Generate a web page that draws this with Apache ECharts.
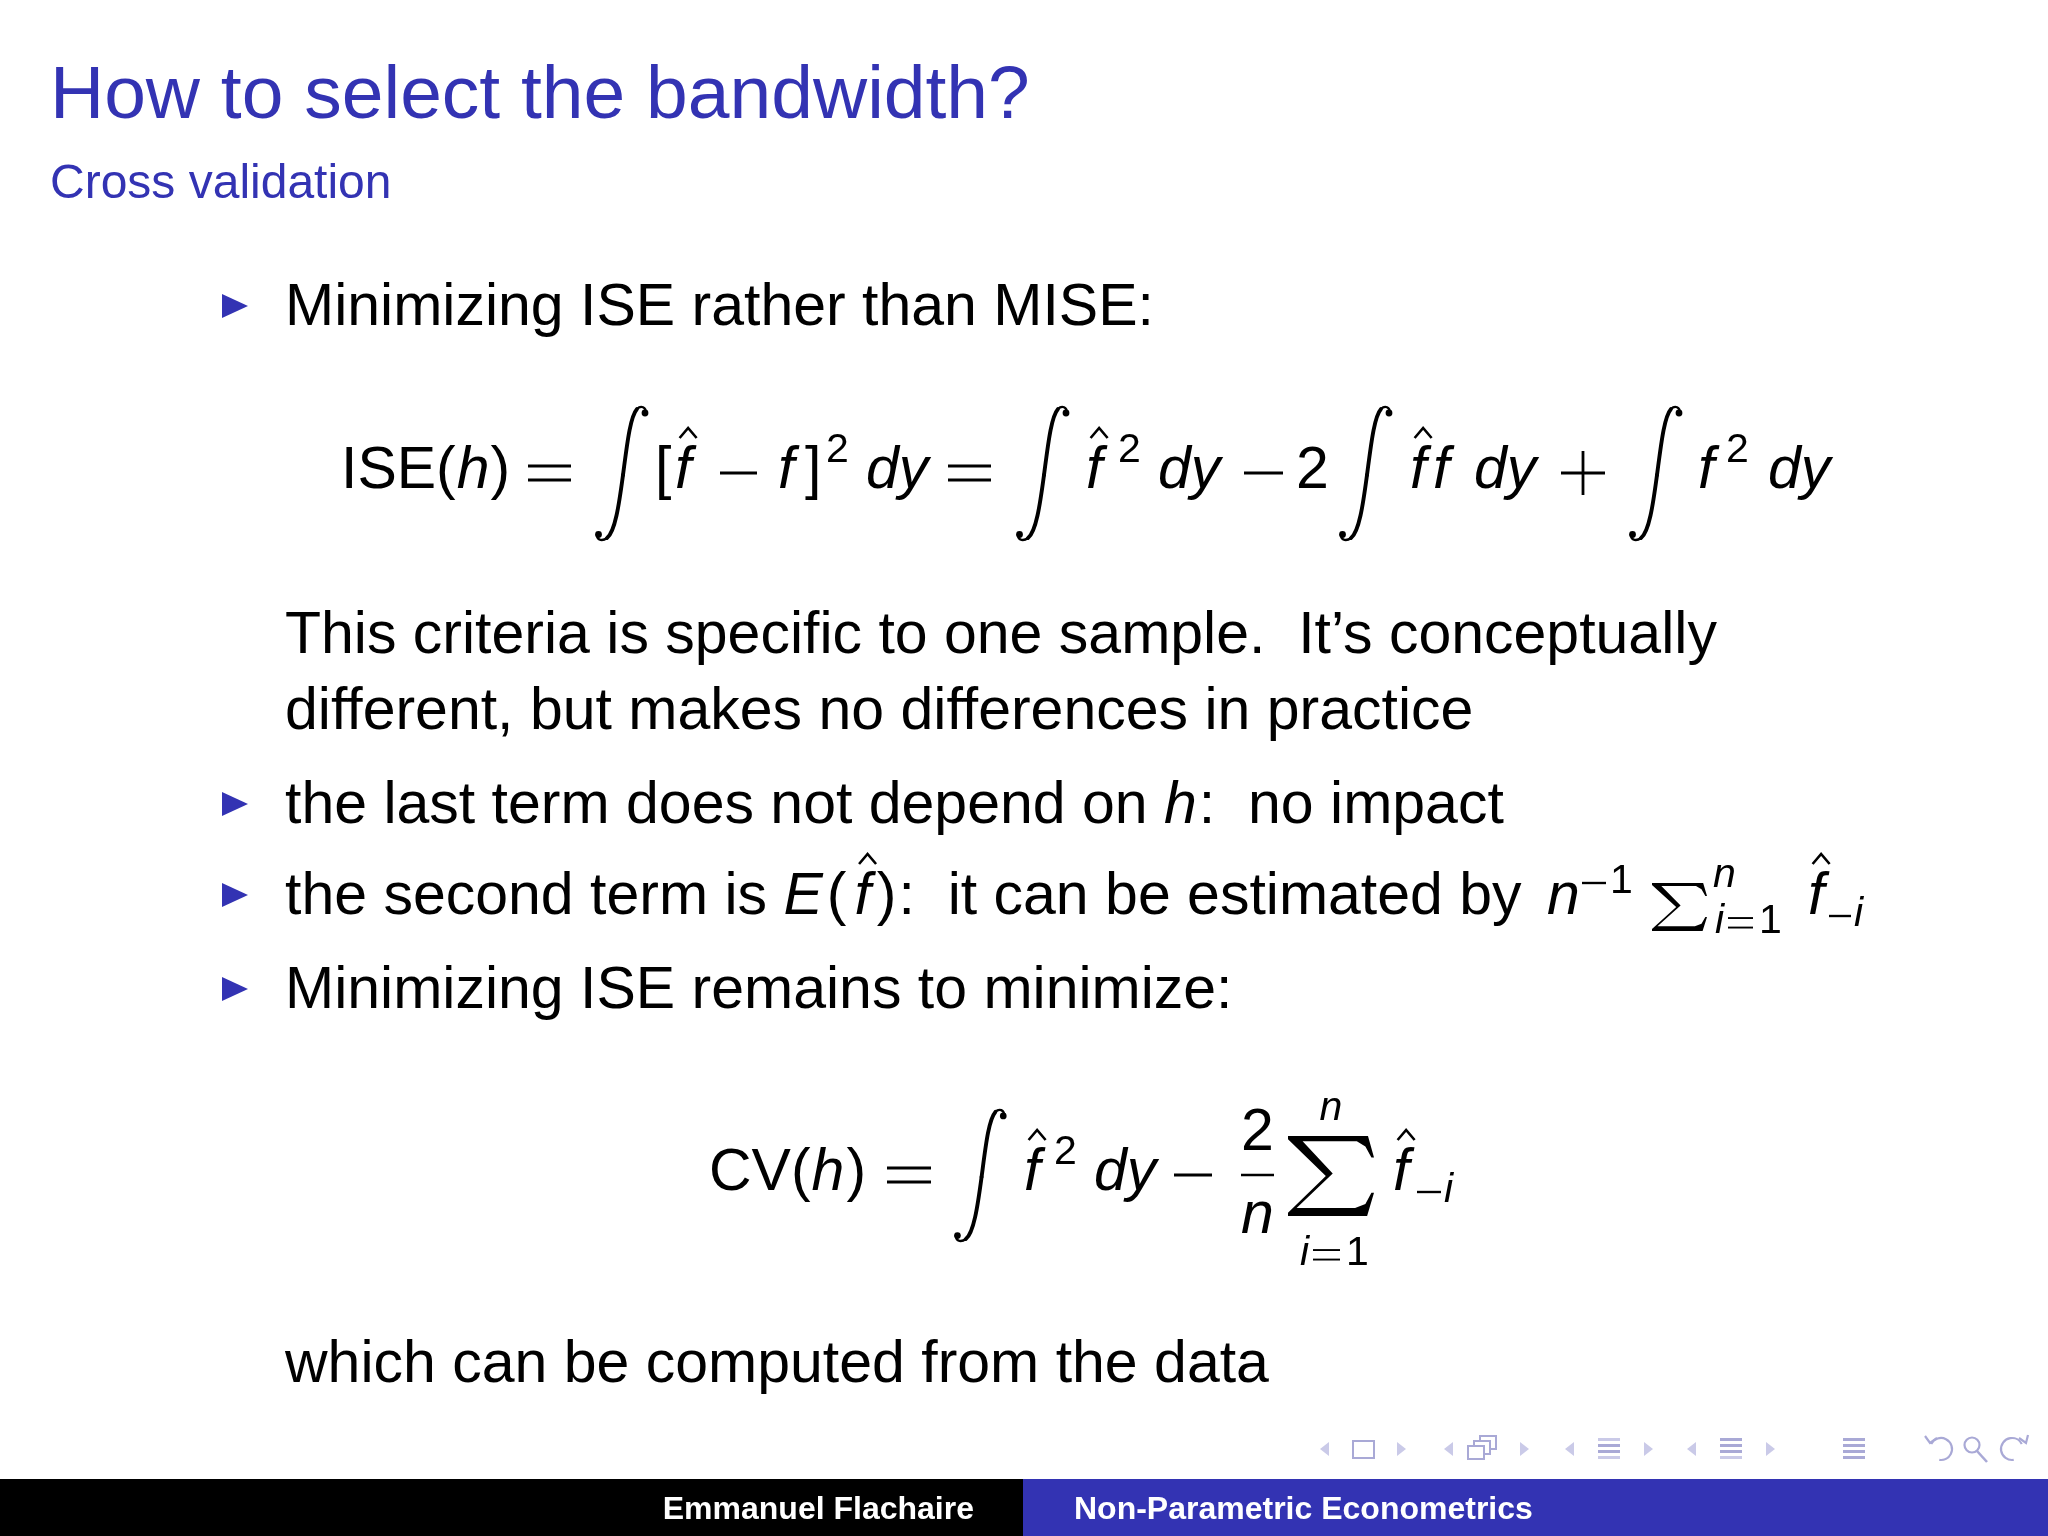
<!DOCTYPE html>
<html><head><meta charset="utf-8">
<script src="https://cdn.jsdelivr.net/npm/echarts@6/dist/echarts.min.js"></script>
<style>html,body{margin:0;padding:0;background:#fff}#c{width:2048px;height:1536px}</style>
</head><body><div id="c"></div>
<script>
// ---------- text content ----------
const titleText = 'How to select the bandwidth?';
const subtitleText = 'Cross validation';
const bullet1Text = 'Minimizing ISE rather than MISE:';
const noteLines = ['This criteria is specific to one sample.  It\u2019s conceptually',
                   'different, but makes no differences in practice'];
const bullet2Parts = ['the last term does not depend on ', 'h', ':  no impact'];
const bullet3Parts = ['the second term is ', 'E', '(', 'f', ')', ':  it can be estimated by '];
const bullet4Text = 'Minimizing ISE remains to minimize:';
const closingText = 'which can be computed from the data';
const footerAuthor = 'Emmanuel Flachaire';
const footerTitle = 'Non-Parametric Econometrics';

// ---------- styles ----------
const FONT = '"Liberation Sans", Arial, Helvetica, sans-serif';
const BLUE = '#3333B3';
const INK = '#000000';
const BODY = 59, SUP = 41, TITLE = 75, SUBT = 48, FOOT = 32;
const NAV_LIGHT = '#CACAE8', NAV_DARK = '#A9A9D6';

const els = [];
let zc = 1;
const cv = document.createElement('canvas').getContext('2d');
function fnt(size, italic, bold) {
  return (italic ? 'italic ' : 'normal ') + (bold ? 'bold ' : 'normal ') + size + 'px ' + FONT;
}
function wid(t, size, italic, bold) { cv.font = fnt(size, italic, bold); return cv.measureText(t).width; }
function baseOff(size, italic, bold) {
  cv.font = fnt(size, italic, bold);
  cv.textBaseline = 'alphabetic';
  const a = cv.measureText('H').actualBoundingBoxAscent;
  cv.textBaseline = 'middle';
  const m = cv.measureText('H').actualBoundingBoxAscent;
  cv.textBaseline = 'alphabetic';
  return a - m;
}
function T(t, x, base, size, o) {
  o = o || {};
  const off = baseOff(size, o.italic, o.bold);
  els.push({type: 'text', x: x, y: base - off, z: zc++, silent: true,
    style: {text: t, font: fnt(size, o.italic, o.bold), fill: o.color || INK,
            align: o.align || 'left', verticalAlign: 'middle'}});
  return x + wid(t, size, o.italic, o.bold);
}
function line(x1, y1, x2, y2, lw, color) {
  els.push({type: 'line', z: zc++, silent: true, shape: {x1, y1, x2, y2},
    style: {stroke: color || INK, lineWidth: lw || 2.8, lineCap: 'butt'}});
}
function hat(cx, top, w) {
  w = w || 9;
  els.push({type: 'polyline', z: zc++, silent: true,
    shape: {points: [[cx - w, top + 10], [cx, top], [cx + w, top + 10]]},
    style: {stroke: INK, lineWidth: 2.6, fill: null, lineJoin: 'miter'}});
}
function opEq(x0, x1, base, k) { k = k || 1; line(x0, base - 8 * k, x1, base - 8 * k, 2.8 * k); line(x0, base - 22 * k, x1, base - 22 * k, 2.8 * k); }
function opMinus(x0, x1, y, k) { line(x0, y, x1, y, 2.8 * (k || 1)); }
function opPlus(x0, x1, base) { const ax = base - 15, h = (x1 - x0) / 2; line(x0, ax, x1, ax, 2.8); line((x0 + x1) / 2, ax - h, (x0 + x1) / 2, ax + h, 2.8); }
function bez(p0, c1, c2, p1, lw) {
  els.push({type: 'bezierCurve', z: zc++, silent: true,
    shape: {x1: p0[0], y1: p0[1], cpx1: c1[0], cpy1: c1[1], cpx2: c2[0], cpy2: c2[1], x2: p1[0], y2: p1[1]},
    style: {stroke: INK, lineWidth: lw, fill: null, lineCap: 'round'}});
}
function integral(x, top, H) {
  const s = H / 137;
  const P = (a, b) => [x + a * s, top + b * s];
  bez(P(52, 8), P(52, 2), P(47, 0), P(43, 4), 2.4);
  bez(P(43, 4), P(36, 12), P(33, 40), P(29, 70), 3.9);
  bez(P(29, 70), P(25, 100), P(21, 127), P(13, 133), 3.9);
  bez(P(13, 133), P(9, 136), P(3, 136), P(3, 130), 2.4);
  const c1 = P(51, 8), c2 = P(4.5, 129.5);
  els.push({type: 'circle', z: zc++, silent: true, shape: {cx: c1[0], cy: c1[1], r: 3.4 * s}, style: {fill: INK}});
  els.push({type: 'circle', z: zc++, silent: true, shape: {cx: c2[0], cy: c2[1], r: 3.4 * s}, style: {fill: INK}});
}
const SIGMA_SHAPE = [[0,0],[0.93,0],[1,0.27],[0.97,0.27],[0.90,0.13],[0.80,0.065],[0.17,0.065],[0.52,0.47],
  [0.10,0.9],[0.78,0.9],[0.90,0.85],[0.97,0.71],[1,0.71],[0.92,1],[0,1],[0,0.96],[0.44,0.5],[0,0.04]];
function sigma(x, top, w, h) {
  els.push({type: 'polygon', z: zc++, silent: true,
    shape: {points: SIGMA_SHAPE.map(p => [x + p[0] * w, top + p[1] * h])}, style: {fill: INK}});
}
function bulletMark(base) {
  els.push({type: 'polygon', z: zc++, silent: true,
    shape: {points: [[222, base - 31], [248, base - 19], [222, base - 7]]}, style: {fill: BLUE}});
}
// italic f with hat; returns end x
function fhat(x, base, size) {
  const w = wid('f', size, true);
  const e = T('f', x, base, size, {italic: true});
  hat(x + w * 0.8, base - 60, 8.5);
  return e;
}

// ---------- header ----------
T(titleText, 50, 118, TITLE, {color: BLUE});
T(subtitleText, 50, 198, SUBT, {color: BLUE});

// ---------- bullet 1 ----------
const X0 = 285;
bulletMark(325);
T(bullet1Text, X0, 325, BODY);

// ---------- ISE formula ----------
(function () {
  const b = 488, H = 137, top = 405;
  let x = T('ISE(', 341, b, BODY);
  x = T('h', x + 1, b, BODY, {italic: true});
  T(')', x + 1, b, BODY);
  opEq(528, 571, b);
  integral(594, top, H);
  T('[', 655, b, BODY);
  fhat(675, b, BODY);
  opMinus(720, 757, b - 15);
  T('f', 778, b, BODY, {italic: true});
  T(']', 805, b, BODY);
  T('2', 826, b - 26, SUP);
  T('dy', 866, b, BODY, {italic: true});
  opEq(948, 991, b);
  integral(1015, top, H);
  fhat(1086, b, BODY);
  T('2', 1118, b - 26, SUP);
  T('dy', 1158, b, BODY, {italic: true});
  opMinus(1244, 1283, b - 15);
  T('2', 1296, b, BODY);
  integral(1338, top, H);
  fhat(1410, b, BODY);
  T('f', 1433, b, BODY, {italic: true});
  T('dy', 1474, b, BODY, {italic: true});
  opPlus(1561, 1605, b);
  integral(1628, top, H);
  T('f', 1698, b, BODY, {italic: true});
  T('2', 1726, b - 26, SUP);
  T('dy', 1768, b, BODY, {italic: true});
})();

// ---------- note paragraph ----------
T(noteLines[0], X0, 653, BODY);
T(noteLines[1], X0, 729, BODY);

// ---------- bullet 2 ----------
(function () {
  const b = 823;
  bulletMark(b);
  let x = T(bullet2Parts[0], X0, b, BODY);
  x = T(bullet2Parts[1], x, b, BODY, {italic: true});
  T(bullet2Parts[2], x + 2, b, BODY);
})();

// ---------- bullet 3 ----------
(function () {
  const b = 914;
  bulletMark(b);
  let x = T(bullet3Parts[0], X0, b, BODY);
  x = T(bullet3Parts[1], x, b, BODY, {italic: true});
  x = T(bullet3Parts[2], x + 4, b, BODY);
  x = fhat(x + 8, b, BODY);
  x = T(bullet3Parts[4], x + 6, b, BODY);
  T(bullet3Parts[5], x + 2, b, BODY);
  // n^{-1} sum_{i=1}^n f_{-i}
  T('n', 1547, b, BODY, {italic: true});
  opMinus(1582, 1606, b - 31, 0.85);
  T('1', 1610, b - 21, SUP);
  sigma(1652, b - 31, 55, 48);
  T('n', 1713, b - 27, SUP, {italic: true});
  T('i', 1715, b + 19, SUP, {italic: true});
  opEq(1728, 1753, b + 19, 0.68);
  T('1', 1759, b + 19, SUP);
  fhat(1808, b, BODY);
  opMinus(1829, 1851, b + 2, 0.85);
  T('i', 1854, b + 12, SUP, {italic: true});
})();

// ---------- bullet 4 ----------
bulletMark(1008);
T(bullet4Text, X0, 1008, BODY);

// ---------- CV formula ----------
(function () {
  const b = 1190;
  let x = T('CV(', 709, b, BODY);
  x = T('h', x + 1, b, BODY, {italic: true});
  T(')', x + 2, b, BODY);
  opEq(887, 931, b);
  integral(953, 1108, 135);
  fhat(1024, b, BODY);
  T('2', 1054, b - 26, SUP);
  T('dy', 1094, b, BODY, {italic: true});
  opMinus(1174, 1212, b - 15);
  line(1241, b - 15, 1274, b - 15, 2.6);
  T('2', 1257.5, b - 40, BODY, {align: 'center'});
  T('n', 1257.5, b + 43, BODY, {italic: true, align: 'center'});
  sigma(1288, b - 54, 86, 80);
  T('n', 1331, b - 70, SUP, {italic: true, align: 'center'});
  T('i', 1300, b + 75, SUP, {italic: true});
  opEq(1313, 1340, b + 75, 0.68);
  T('1', 1346, b + 75, SUP);
  fhat(1393, b, BODY);
  opMinus(1417, 1441, b + 2, 0.85);
  T('i', 1444, b + 12, SUP, {italic: true});
})();

// ---------- closing line ----------
T(closingText, X0, 1382, BODY);

// ---------- navigation symbols ----------
(function () {
  const cy = 1449;
  const triL = x => els.push({type: 'polygon', z: zc++, silent: true, shape: {points: [[x, cy], [x + 9, cy - 7], [x + 9, cy + 7]]}, style: {fill: NAV_LIGHT}});
  const triR = x => els.push({type: 'polygon', z: zc++, silent: true, shape: {points: [[x + 9, cy], [x, cy - 7], [x, cy + 7]]}, style: {fill: NAV_LIGHT}});
  const rect = (x, y, w, h, fill) => els.push({type: 'rect', z: zc++, silent: true, shape: {x, y, width: w, height: h}, style: {fill: fill || null, stroke: NAV_DARK, lineWidth: 2}});
  const bar = (x, y, w, c) => els.push({type: 'rect', z: zc++, silent: true, shape: {x, y, width: w, height: 3}, style: {fill: c}});
  [1320, 1444, 1565, 1687].forEach(triL);
  [1397, 1520, 1644, 1766].forEach(triR);
  rect(1353, 1441, 21, 17);
  rect(1480, 1436, 16, 13, '#fff');
  rect(1474, 1441, 16, 13, '#fff');
  rect(1468, 1446, 16, 13, '#fff');
  const menu = (x, shades) => shades.forEach((c, i) => bar(x, 1438 + i * 6, 22, c));
  menu(1598, [NAV_LIGHT, NAV_DARK, NAV_DARK, NAV_LIGHT]);
  menu(1720, [NAV_DARK, NAV_DARK, NAV_DARK, NAV_LIGHT]);
  menu(1843, [NAV_DARK, NAV_DARK, NAV_DARK, NAV_DARK]);
  const arc = (cx, cyy, r, s, e) => els.push({type: 'arc', z: zc++, silent: true, shape: {cx, cy: cyy, r, startAngle: s, endAngle: e, clockwise: true}, style: {stroke: NAV_DARK, lineWidth: 2.2, fill: null}});
  arc(1941, cy, 11, Math.PI * 1.15, Math.PI * 0.55);
  els.push({type: 'polyline', z: zc++, silent: true, shape: {points: [[1925, 1436], [1930, 1443], [1937, 1438]]}, style: {stroke: NAV_DARK, lineWidth: 2.2, fill: null}});
  els.push({type: 'circle', z: zc++, silent: true, shape: {cx: 1972, cy: 1445, r: 7.5}, style: {stroke: NAV_DARK, lineWidth: 2.2, fill: null}});
  line(1977, 1451, 1987, 1462, 2.6, NAV_DARK);
  arc(2012, cy, 11, Math.PI * 0.45, Math.PI * 1.85);
  els.push({type: 'polyline', z: zc++, silent: true, shape: {points: [[2019, 1438], [2026, 1443], [2028, 1435]]}, style: {stroke: NAV_DARK, lineWidth: 2.2, fill: null}});
})();

// ---------- footer ----------
els.push({type: 'rect', z: zc++, silent: true, shape: {x: 0, y: 1479, width: 1024, height: 57}, style: {fill: '#000000'}});
els.push({type: 'rect', z: zc++, silent: true, shape: {x: 1023, y: 1479, width: 1025, height: 57}, style: {fill: BLUE}});
T(footerAuthor, 974, 1519, FOOT, {bold: true, color: '#FFFFFF', align: 'right'});
T(footerTitle, 1074, 1519, FOOT, {bold: true, color: '#FFFFFF'});

const chart = echarts.init(document.getElementById('c'), null, {renderer: 'canvas', width: 2048, height: 1536});
chart.setOption({animation: false, backgroundColor: '#ffffff', graphic: {elements: els}});
</script>
</body></html>
